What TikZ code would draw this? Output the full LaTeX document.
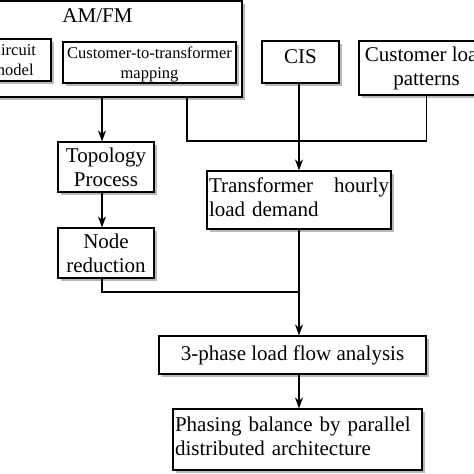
\documentclass[tikz,border=0pt]{standalone}
\usepackage{fontspec}
\setmainfont{Liberation Serif}
\usetikzlibrary{arrows.meta,shadows}
\begin{document}
\begin{tikzpicture}[x=1pt,y=-1pt,
  box/.style={draw, line width=1.2pt, fill=white, inner sep=0pt,
    drop shadow={shadow xshift=3pt, shadow yshift=-3pt, opacity=0.55},
    font=\fontsize{21}{24}\selectfont, align=center},
  smallbox/.style={box, font=\fontsize{16.5}{20.5}\selectfont},
  conn/.style={line width=1.2pt},
  arr/.style={conn, -{Stealth[length=11pt, width=8pt, inset=3.5pt]}}]
\useasboundingbox (0,0) rectangle (474,474);
\clip (0,0) rectangle (474,474);
% AM/FM group
\node[box, minimum width=272pt, minimum height=96pt] (amfm) at (106,49) {};
\node[anchor=base, inner sep=0pt, font=\fontsize{21}{24}\selectfont] (amfmlabel) at (97.5,22) {AM/FM};
\node[smallbox, minimum width=76pt, minimum height=42pt] (circ) at (13,60) {Circuit\\model};
\node[smallbox, minimum width=173pt, minimum height=41pt, text depth=0pt] (map) at (149.5,62.5) {Customer-to-transformer\\mapping};
% inputs
\node[box, minimum width=77pt, minimum height=42pt, text height=15pt, text depth=13pt] (cis) at (300.5,62) {CIS};
\node[box, minimum width=135pt, minimum height=54pt] (load) at (426.5,68) {Customer load\\patterns};
% process boxes
\node[box, minimum width=96pt, minimum height=50pt] (topo) at (106,167) {Topology\\Process};
\node[box, minimum width=96pt, minimum height=50pt] (nred) at (106,253) {Node\\reduction};
\node[box, minimum width=184pt, minimum height=58pt, text width=180pt, align=left, text depth=30pt] (tr) at (299,200) {Transformer\hfill hourly\\load demand};
\node[box, minimum width=267pt, minimum height=38pt] (ph3) at (292.5,355) {3-phase load flow analysis};
\node[box, minimum width=249pt, minimum height=61pt, text width=245pt, align=left, text depth=31pt] (phb) at (297.5,439.5) {Phasing balance by parallel\\distributed architecture};
% helper coordinates
\coordinate (xl) at (102,0);
\coordinate (xm) at (187,0);
\coordinate (xt) at (299,0);
\coordinate (j1) at (299,141);
\coordinate (j2) at (299,292);
% connectors
\draw[arr] (amfm.south -| xl) -- (topo.north -| xl);
\draw[arr] (topo.south -| xl) -- (nred.north -| xl);
\draw[conn] (amfm.south -| xm) |- (load.south |- j1) -- (load.south);
\draw[conn] (cis.south -| xt) -- (j1);
\draw[arr] (j1) -- (tr.north -| xt);
\draw[conn] (nred.south -| xl) |- (j2);
\draw[arr] (tr.south -| xt) -- (ph3.north -| xt);
\draw[arr] (ph3.south -| xt) -- (phb.north -| xt);
\end{tikzpicture}
\end{document}
